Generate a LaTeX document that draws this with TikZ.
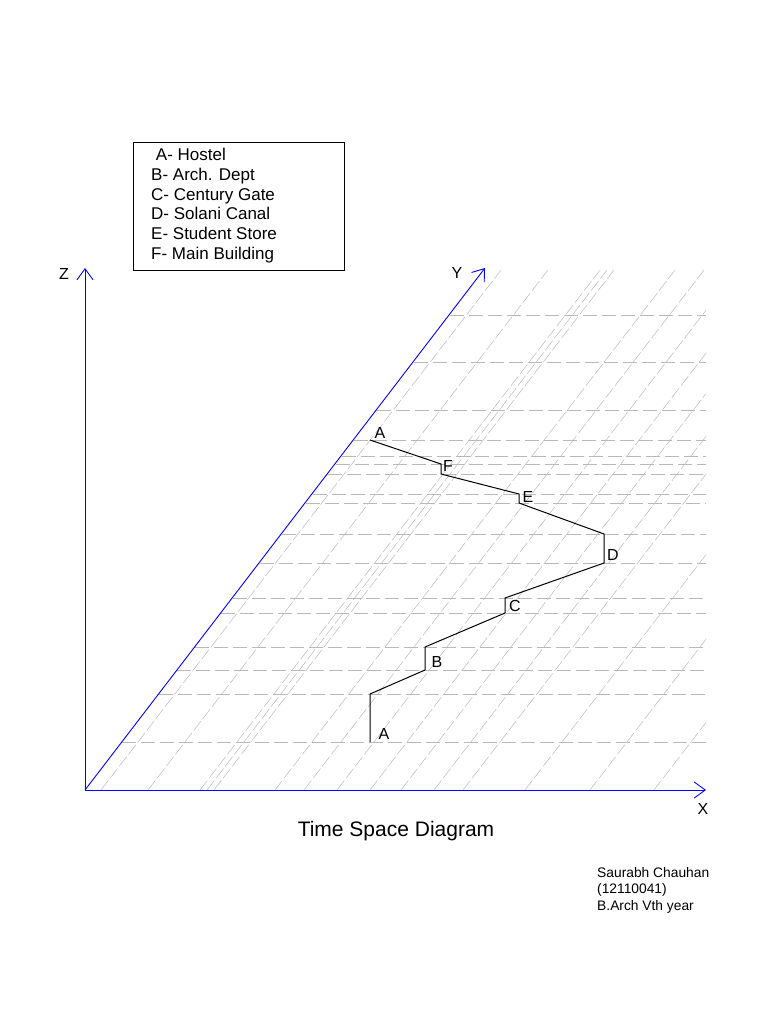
\documentclass[tikz,border=0pt]{standalone}
\usepackage{fontspec}
\setmainfont{Liberation Sans}
\usetikzlibrary{arrows.meta}
\begin{document}
\begin{tikzpicture}[x=1pt,y=-1pt,
  axis/.style={blue,line width=0.9pt,-{Straight Barb[length=11pt,width=16pt,line width=0.9pt]}},
  hgrid/.style={gray!55,line width=0.8pt,dash pattern=on 14pt off 5pt},
  sgrid/.style={gray!55,line width=0.5pt,dash pattern=on 12pt off 3pt},
  route/.style={black,line width=1pt},
  lbl/.style={font=\fontsize{16}{18}\selectfont,inner sep=0pt}]
\useasboundingbox (0,0) rectangle (768,1024);
% slanted grid
\begin{scope}
\clip (85,790) -- (485,270) -- (706,268) -- (706,790) -- cycle;
\foreach \b in {101,148,200,207,214,275,304,337,370,401,434,463,525,590,654}
  \draw[sgrid] (\b,790) -- ++(400,-520);
\end{scope}
% horizontal grid
\foreach \yy in {315,362,410,440,456,464,474,494,503,534,563,598,613,647,670,694,742}
  \draw[hgrid] ({85+(790-\yy)*0.76923},\yy) -- (706,\yy);
% axes
\coordinate (O) at (85,790);
\coordinate (Zt) at (85,268);
\coordinate (Xt) at (706,790);
\coordinate (Yt) at (485,268);
\draw[axis] (O) -- (Zt);
\draw[axis] (O) -- (Xt);
\draw[axis] (O) -- (Yt);
\node[lbl] (zl) at (64,274) {Z};
\node[lbl] (yl) at (457,273) {Y};
\node[lbl] (xl) at (703,809) {X};
% route
\coordinate (p1) at (370,742);
\coordinate (p2) at (370,694);
\coordinate (p3) at (425,670);
\coordinate (p4) at (425,647);
\coordinate (p5) at (505,613);
\coordinate (p6) at (505,598);
\coordinate (p7) at (604,563);
\coordinate (p8) at (604,534);
\coordinate (p9) at (519,503);
\coordinate (p10) at (519,494);
\coordinate (p11) at (441,474);
\coordinate (p12) at (441,464);
\coordinate (p13) at (370,440);
\draw[route] (p1) -- (p2) -- (p3) -- (p4) -- (p5) -- (p6) -- (p7) -- (p8) -- (p9) -- (p10) -- (p11) -- (p12) -- (p13);
\node[lbl] (la1) at (384,734) {A};
\node[lbl] (lb) at (437,662) {B};
\node[lbl] (lc) at (515,606) {C};
\node[lbl] (ld) at (613,555) {D};
\node[lbl] (le) at (528,497) {E};
\node[lbl] (lf) at (448,466) {F};
\node[lbl] (la2) at (380,433) {A};
% legend
\node[draw,line width=0.8pt,minimum width=211pt,minimum height=128pt,inner sep=0pt] (leg) at (238.5,206) {};
\node[anchor=north west,align=left,inner sep=0pt,font=\fontsize{17}{19.8}\selectfont] (legt) at (151,148) {%
\ A- Hostel\\ B- Arch. Dept\\ C- Century Gate\\ D- Solani Canal\\ E- Student Store\\ F- Main Building};
% title
\node[font=\fontsize{21}{24}\selectfont,inner sep=0pt] (title) at (396,831) {Time Space Diagram};
\node[anchor=north west,align=left,inner sep=0pt,font=\fontsize{13.8}{16.5}\selectfont] (auth) at (597,867) {Saurabh Chauhan\\(12110041)\\B.Arch Vth year};
\end{tikzpicture}
\end{document}
